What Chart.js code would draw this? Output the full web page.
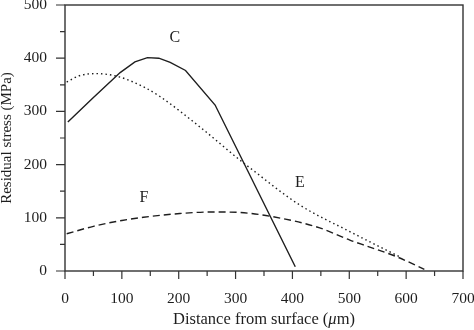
<!DOCTYPE html>
<html lang="en">
<head>
  <meta charset="UTF-8" />
  <title>Residual stress profiles</title>
  <script src="https://cdn.jsdelivr.net/npm/chart.js"></script>
  <style>
    body {
      margin: 0;
      background: #fff;
    }

    .wrap {
      width: 474px;
      height: 330px;
    }
  </style>
</head>
<body>
  <div class="wrap">
    <canvas id="chart" width="474" height="330"></canvas>
  </div>

  <script>
    // depth profiles, um vs MPa
    const distanceC = [5, 50, 97, 123, 145, 165, 185, 212, 264, 405];
    const stressC   = [280, 326, 373, 393, 401, 400, 392, 377, 312, 8];

    const distanceE = [3, 25, 55, 95, 140, 167, 237, 307, 325, 413, 501, 590];
    const stressE   = [355, 367, 371, 365, 345, 328, 271, 209, 194, 124, 74, 26];

    const distanceF = [3, 50, 100, 138, 202, 260, 307, 366, 448, 501, 536, 583, 632];
    const stressF   = [70, 84, 95, 101, 108, 111, 110, 102, 81, 58, 45, 27, 3];

    // curve names and where they sit (data units)
    const curveNames = ['C', 'E', 'F'];
    const curveLabelX = [193, 413, 139];
    const curveLabelY = [438, 165, 137];

    const FONT = '"Liberation Serif", "Times New Roman", serif';
    const INK = '#1e1e1e';

    function points(xs, ys) {
      return xs.map((x, i) => ({ x: x, y: ys[i] }));
    }

    // frame, outward ticks (long at 100s, short at 50s), curve names, x title
    const decorations = {
      id: 'decorations',
      afterDraw(chart) {
        const ctx = chart.ctx;
        const ca = chart.chartArea;
        const xs = chart.scales.x;
        const ys = chart.scales.y;
        ctx.save();
        ctx.strokeStyle = '#333';
        ctx.lineWidth = 1.4;
        ctx.strokeRect(ca.left, ca.top, ca.right - ca.left, ca.bottom - ca.top);

        ctx.lineWidth = 1.2;
        ctx.beginPath();
        xs.ticks.forEach(t => {
          const px = xs.getPixelForValue(t.value);
          const len = t.value % 100 === 0 ? 8 : 5;
          ctx.moveTo(px, ca.bottom);
          ctx.lineTo(px, ca.bottom + len);
        });
        ys.ticks.forEach(t => {
          const py = ys.getPixelForValue(t.value);
          const len = t.value % 100 === 0 ? 9 : 5;
          ctx.moveTo(ca.left, py);
          ctx.lineTo(ca.left - len, py);
        });
        ctx.stroke();

        ctx.fillStyle = INK;
        ctx.font = '16px ' + FONT;
        ctx.textAlign = 'center';
        ctx.textBaseline = 'middle';
        curveNames.forEach((name, i) => {
          ctx.fillText(name, xs.getPixelForValue(curveLabelX[i]), ys.getPixelForValue(curveLabelY[i]));
        });

        // x title with italic mu
        const parts = [
          { text: 'Distance from surface (', font: '16.5px ' + FONT },
          { text: 'μ', font: 'italic 16.5px ' + FONT },
          { text: 'm)', font: '16.5px ' + FONT }
        ];
        let total = 0;
        parts.forEach(p => {
          ctx.font = p.font;
          p.w = ctx.measureText(p.text).width;
          total += p.w;
        });
        let x = (ca.left + ca.right) / 2 - total / 2;
        ctx.textAlign = 'left';
        parts.forEach(p => {
          ctx.font = p.font;
          ctx.fillText(p.text, x, 320);
          x += p.w;
        });
        ctx.restore();
      }
    };

    const lineStyle = {
      borderColor: INK,
      borderWidth: 1.4,
      pointRadius: 0,
      fill: false
    };

    new Chart(document.getElementById('chart'), {
      type: 'line',
      data: {
        datasets: [
          Object.assign({ label: 'C', data: points(distanceC, stressC), tension: 0 }, lineStyle),
          Object.assign({ label: 'E', data: points(distanceE, stressE), cubicInterpolationMode: 'monotone', borderDash: [1.5, 3] }, lineStyle),
          Object.assign({ label: 'F', data: points(distanceF, stressF), cubicInterpolationMode: 'monotone', borderDash: [7, 4] }, lineStyle)
        ]
      },
      options: {
        responsive: false,
        animation: false,
        layout: { padding: { top: 5, right: 11, left: 0, bottom: 0 } },
        plugins: {
          legend: { display: false },
          tooltip: { enabled: false }
        },
        scales: {
          x: {
            type: 'linear',
            min: 0,
            max: 700,
            border: { display: false },
            grid: { display: false, drawTicks: false },
            ticks: {
              stepSize: 50,
              autoSkip: false,
              maxRotation: 0,
              padding: 20,
              color: INK,
              font: { family: FONT, size: 15.5, lineHeight: 1 },
              callback: v => (v % 100 === 0 ? String(v) : '')
            },
            afterFit(scale) {
              scale.height = 59;
              scale.paddingLeft = 0;
              scale.paddingRight = 0;
            }
          },
          y: {
            min: 0,
            max: 500,
            border: { display: false },
            grid: { display: false, drawTicks: false },
            title: {
              display: true,
              text: 'Residual stress (MPa)',
              color: INK,
              padding: 0,
              font: { family: FONT, size: 15, lineHeight: 1 }
            },
            ticks: {
              stepSize: 50,
              autoSkip: false,
              padding: 18,
              color: INK,
              font: { family: FONT, size: 15.5, lineHeight: 1 },
              callback: v => (v % 100 === 0 ? String(v) : '')
            },
            afterFit(scale) {
              scale.width = 65;
              scale.paddingTop = 0;
              scale.paddingBottom = 0;
            }
          }
        }
      },
      plugins: [decorations]
    });
  </script>
</body>
</html>
